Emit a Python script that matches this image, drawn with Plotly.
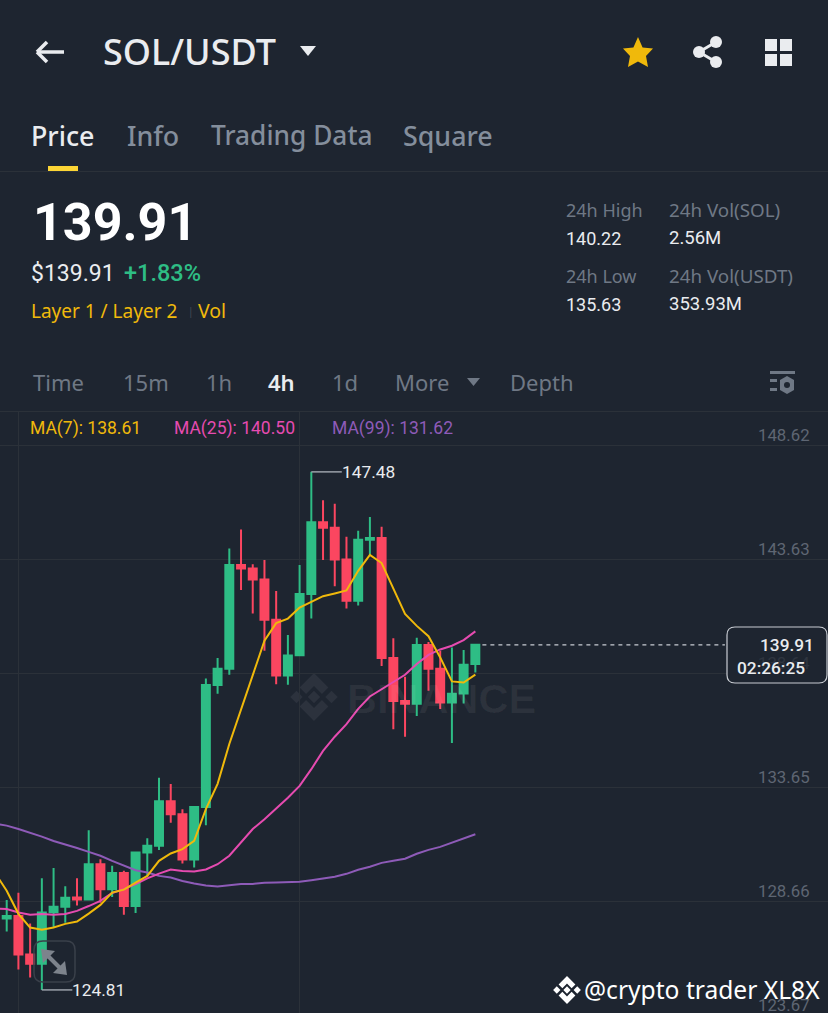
import plotly.graph_objects as go

W, H = 828, 1013

# candles
opens = [127.93, 128.05, 126.36, 125.95, 128.21, 128.45, 128.85, 128.77, 130.31, 129.22, 129.93,
         128.48, 130.82, 131.12, 133.07, 132.50, 130.52, 132.82, 138.15, 138.86, 143.40, 143.25,
         142.77, 141.01, 138.57, 139.46, 142.14, 145.28, 145.03, 143.64, 141.84, 144.51, 144.59,
         139.33, 137.45, 137.33, 139.90, 138.86, 137.39, 137.78, 139.07]
highs = [128.74, 129.06, 127.72, 129.70, 130.14, 129.35, 129.70, 131.80, 130.53, 130.24, 130.02,
         130.82, 131.45, 134.09, 133.82, 132.72, 132.82, 138.44, 139.34, 144.13, 144.96, 143.44,
         143.62, 142.27, 140.34, 143.41, 147.48, 146.24, 146.08, 144.64, 144.90, 145.50, 145.08,
         140.20, 138.51, 140.22, 140.04, 139.65, 139.79, 139.69, 139.91]
lows = [127.37, 125.70, 125.35, 124.81, 127.54, 127.75, 128.50, 128.74, 128.63, 128.88, 128.10,
        128.18, 129.76, 130.93, 132.12, 130.34, 130.17, 132.02, 137.77, 138.60, 142.31, 141.28,
        139.65, 138.19, 138.16, 139.46, 141.06, 143.62, 142.48, 141.50, 141.63, 143.85, 138.99,
        136.22, 135.89, 136.80, 137.90, 137.10, 135.61, 137.34, 138.70]
closes = [128.05, 126.36, 125.95, 128.20, 128.45, 128.84, 128.77, 130.31, 129.22, 129.93, 128.48,
          130.82, 131.12, 133.07, 132.50, 130.52, 132.82, 138.15, 138.86, 143.40, 143.25, 142.77,
          141.01, 138.57, 139.44, 142.14, 145.28, 145.03, 143.64, 141.84, 144.51, 144.59, 139.33,
          137.45, 137.33, 139.90, 138.86, 137.39, 137.77, 139.04, 139.91]
candle_x = list(range(41))

# moving averages, first point sits one candle off the left edge
ma7 = [129.93, 129.15, 128.14, 127.54, 127.44, 127.54, 127.70, 127.80, 128.15, 128.53, 129.07,
       129.20, 129.51, 129.80, 130.46, 130.78, 130.97, 131.33, 132.72, 133.83, 135.57, 137.08,
       138.60, 140.09, 140.86, 141.06, 141.54, 141.79, 142.04, 142.16, 142.29, 143.15, 143.85,
       143.49, 142.35, 141.26, 140.74, 140.29, 139.36, 138.31, 138.26, 138.61]
ma25 = [128.37, 128.35, 128.20, 128.10, 128.13, 128.10, 128.13, 128.27, 128.48, 128.71, 129.05,
        129.22, 129.44, 129.69, 129.90, 130.08, 130.01, 129.99, 130.08, 130.31, 130.68, 131.26,
        131.85, 132.28, 132.74, 133.22, 133.74, 134.47, 135.27, 135.89, 136.44, 137.11, 137.65,
        137.97, 138.26, 138.60, 139.07, 139.47, 139.71, 139.87, 140.12, 140.50]
ma99 = [132.09, 132.00, 131.85, 131.70, 131.52, 131.33, 131.19, 131.02, 130.85, 130.68, 130.46,
        130.24, 130.05, 129.95, 129.80, 129.73, 129.58, 129.47, 129.38, 129.34, 129.40, 129.44,
        129.45, 129.50, 129.51, 129.51, 129.54, 129.61, 129.67, 129.76, 129.89, 130.07, 130.20,
        130.37, 130.46, 130.55, 130.77, 130.94, 131.07, 131.25, 131.42, 131.62]
ma_x = list(range(-1, 41))

y_ticks = [148.62, 143.63, 138.64, 133.65, 128.66, 123.67]
y_tick_labels = ['148.62', '143.63', '138.64', '133.65', '128.66', '123.67']
x_grid = [1, 25]

BG = '#1E2530'
GRID = '#2B3139'
GREEN = '#2EBD85'
RED = '#FB4660'
YELLOW = '#F0B90B'
PINK = '#E64BB0'
PURPLE = '#8E5BB8'
GRAY = '#848E9C'
DIM = '#6F7885'
WHITE = '#EAECEF'
UI = 'Noto Sans'
NUM = 'Roboto'

Y_RANGE = [123.80, 150.10]
Y_TOP = (H - 412) / H


def px(x):
    return x / W


def py(y):
    return 1 - y / H


def poly(points):
    s = 'M %.5f %.5f' % (px(points[0][0]), py(points[0][1]))
    for p in points[1:]:
        s += ' L %.5f %.5f' % (px(p[0]), py(p[1]))
    return s + ' Z'


def roundrect(x0, y0, x1, y1, r):
    return ('M %.5f %.5f L %.5f %.5f Q %.5f %.5f %.5f %.5f L %.5f %.5f Q %.5f %.5f %.5f %.5f '
            'L %.5f %.5f Q %.5f %.5f %.5f %.5f L %.5f %.5f Q %.5f %.5f %.5f %.5f Z' % (
                px(x0 + r), py(y0), px(x1 - r), py(y0), px(x1), py(y0), px(x1), py(y0 + r),
                px(x1), py(y1 - r), px(x1), py(y1), px(x1 - r), py(y1),
                px(x0 + r), py(y1), px(x0), py(y1), px(x0), py(y1 - r),
                px(x0), py(y0 + r), px(x0), py(y0), px(x0 + r), py(y0)))


shapes = []
annotations = []


def fill(d, color, layer='above'):
    shapes.append(dict(type='path', xref='paper', yref='paper', path=d, fillcolor=color,
                       line=dict(width=0), layer=layer))


def stroke(d, color, width, fc='rgba(0,0,0,0)'):
    shapes.append(dict(type='path', xref='paper', yref='paper', path=d, fillcolor=fc,
                       line=dict(color=color, width=width), layer='above'))


def seg(x0, y0, x1, y1, color, width):
    shapes.append(dict(type='line', xref='paper', yref='paper', x0=px(x0), x1=px(x1), y0=py(y0), y1=py(y1),
                       line=dict(color=color, width=width), layer='above'))


def dot(x, y, r, color):
    shapes.append(dict(type='circle', xref='paper', yref='paper', x0=px(x - r), x1=px(x + r),
                       y0=py(y - r), y1=py(y + r), fillcolor=color, line=dict(width=0), layer='above'))


def txt(x, y, s, size, color, family=UI, weight=400, anchor='left'):
    # annotations keep a little padding on the left
    if anchor == 'left':
        x = x - 0.5
    annotations.append(dict(xref='paper', yref='paper', x=px(x), y=py(y), text=s, showarrow=False,
                            xanchor=anchor, yanchor='middle', borderpad=0, borderwidth=0,
                            font=dict(size=size, color=color, family=family, weight=weight)))


def diamond(cx, cy, r):
    return poly([(cx, cy - r), (cx + r, cy), (cx, cy + r), (cx - r, cy)])


def binance_logo(cx, cy, s, color, layer):
    fill(diamond(cx, cy, 0.26 * s), color, layer)
    fill(diamond(cx - 0.73 * s, cy, 0.26 * s), color, layer)
    fill(diamond(cx + 0.73 * s, cy, 0.26 * s), color, layer)
    fill(poly([(cx, cy - s), (cx + 0.6 * s, cy - 0.4 * s), (cx + 0.33 * s, cy - 0.13 * s), (cx, cy - 0.46 * s),
               (cx - 0.33 * s, cy - 0.13 * s), (cx - 0.6 * s, cy - 0.4 * s)]), color, layer)
    fill(poly([(cx, cy + s), (cx + 0.6 * s, cy + 0.4 * s), (cx + 0.33 * s, cy + 0.13 * s), (cx, cy + 0.46 * s),
               (cx - 0.33 * s, cy + 0.13 * s), (cx - 0.6 * s, cy + 0.4 * s)]), color, layer)


# header
seg(37, 52, 64, 52, WHITE, 3.5)
seg(37, 52, 47, 42, WHITE, 3.5)
seg(37, 52, 47, 62, WHITE, 3.5)
txt(103, 52, 'SOL/USDT', 36, WHITE, weight=500)
fill(poly([(300, 46), (316, 46), (308, 56)]), WHITE)
fill(poly([(638, 37), (642.6, 47.5), (653, 48.5), (646, 56), (648, 67), (638, 61.5), (628, 67), (630, 56),
           (623, 48.5), (633.4, 47.5)]), YELLOW)
dot(716, 42, 6, WHITE)
dot(716, 62, 6, WHITE)
dot(699, 52, 6, WHITE)
seg(699, 52, 716, 42, WHITE, 3)
seg(699, 52, 716, 62, WHITE, 3)
for gx in (765, 780):
    for gy in (39, 54):
        fill(poly([(gx, gy), (gx + 12, gy), (gx + 12, gy + 12), (gx, gy + 12)]), WHITE)

# tabs
txt(31, 135, 'Price', 26.8, WHITE, weight=500)
txt(127, 135, 'Info', 26.8, GRAY, weight=500)
txt(211, 135, 'Trading Data', 26.3, GRAY, weight=500)
txt(403, 135, 'Square', 26.8, GRAY, weight=500)
fill(poly([(48, 166), (78, 166), (78, 171), (48, 171)]), '#FCD535')
seg(0, 171.5, 828, 171.5, GRID, 1)

# price block
txt(33, 222, '139.91', 52, '#FFFFFF', family=NUM, weight=700)
txt(31, 273, '$139.91', 23, WHITE, family=NUM)
txt(124, 273, '+1.83%', 23.5, GREEN, family=NUM, weight=500)
txt(31, 311, 'Layer 1 / Layer 2', 19, YELLOW)
txt(188, 311, '|', 10, '#474D57')
txt(198, 311, 'Vol', 19.5, YELLOW)
txt(566, 210, '24h High', 18, DIM)
txt(669, 210, '24h Vol(SOL)', 18.8, DIM)
txt(566, 238, '140.22', 18, WHITE, family=NUM)
txt(669, 238, '2.56M', 18.5, WHITE, family=NUM)
txt(566, 276, '24h Low', 18, DIM)
txt(669, 276, '24h Vol(USDT)', 18.8, DIM)
txt(566, 304, '135.63', 18, WHITE, family=NUM)
txt(669, 304, '353.93M', 18.5, WHITE, family=NUM)

# interval row
for lx, label, col, wt in [(33, 'Time', DIM, 400), (123, '15m', DIM, 400), (206, '1h', DIM, 400),
                           (268, '4h', WHITE, 600), (332, '1d', DIM, 400), (395, 'More', DIM, 400),
                           (510, 'Depth', DIM, 400)]:
    txt(lx, 382, label, 22, col, weight=wt)
fill(poly([(467, 378), (480, 378), (473.5, 386)]), DIM)
fill(poly([(770, 371), (795, 371), (795, 374), (770, 374)]), DIM)
fill(poly([(770, 379), (777, 379), (777, 382), (770, 382)]), DIM)
fill(poly([(770, 388), (777, 388), (777, 391), (770, 391)]), DIM)
fill(poly([(787, 376), (794, 380), (794, 390), (787, 394), (780, 390), (780, 380)]), DIM)
dot(787, 385, 3, BG)
seg(0, 411.5, 828, 411.5, GRID, 1)

# MA legend
txt(30, 428, 'MA(7): 138.61', 17.5, YELLOW, family=NUM)
txt(174, 428, 'MA(25): 140.50', 17.5, PINK, family=NUM)
txt(332, 428, 'MA(99): 131.62', 17.5, PURPLE, family=NUM)

# watermark, under the candles
binance_logo(314, 697, 24, '#2C323D', 'below')
txt(347, 698, 'BINANCE', 41.5, 'rgba(255,255,255,0.06)', family='Liberation Sans', weight=700)

# axis labels sit just over their grid lines, paper refs so the lowest one survives the axis range
for tick, label in zip(y_ticks, y_tick_labels):
    frac = (tick - Y_RANGE[0]) / (Y_RANGE[1] - Y_RANGE[0]) * Y_TOP
    color = '#2F3540' if label == '138.64' else '#5E6673'
    annotations.append(dict(xref='paper', yref='paper', x=px(812), y=frac, text=label, showarrow=False,
                            xanchor='right', yanchor='bottom', yshift=-1,
                            font=dict(size=16.8, color=color, family=NUM)))

# high and low callouts
for ix, val, label in [(26, highs[26], '147.48'), (3, lows[3], '124.81')]:
    shapes.append(dict(type='line', xref='x', yref='y', x0=ix, x1=ix + 2.6, y0=val, y1=val,
                       line=dict(color='#9AA0A8', width=1.5), layer='above'))
    annotations.append(dict(xref='x', yref='y', x=ix + 2.6, y=val, text=label, showarrow=False, xanchor='left',
                            yanchor='middle', xshift=-2, font=dict(size=17.3, color=WHITE, family=NUM)))

# last price line and box
shapes.append(dict(type='line', xref='x', yref='y', x0=40.6, x1=61.3, y0=closes[-1], y1=closes[-1],
                   line=dict(color='#C8CCD2', width=1.2, dash='4px,4px'), layer='above'))
stroke(roundrect(727, 627, 827, 683, 8), '#C8CCD2', 1.2, fc=BG)
txt(814, 645, '139.91', 17.3, WHITE, family=NUM, weight=500, anchor='right')
txt(805, 668, '02:26:25', 17.3, WHITE, family=NUM, weight=500, anchor='right')

# expand button
stroke(roundrect(34, 941, 75, 982, 9), '#3A404A', 1.5)
seg(45, 953, 63, 971, '#7D838C', 4)
fill(poly([(41, 949), (55, 951), (43, 963)]), '#7D838C')
fill(poly([(67, 975), (53, 973), (65, 961)]), '#7D838C')

# corner credit
binance_logo(567, 990, 14, '#FFFFFF', 'above')
txt(584.5, 989, '@crypto trader XL8X', 24.6, '#FFFFFF')

fig = go.Figure()
fig.add_trace(go.Candlestick(x=candle_x, open=opens, high=highs, low=lows, close=closes,
                             whiskerwidth=0, hoverinfo='skip',
                             increasing=dict(line=dict(color=GREEN, width=2), fillcolor=GREEN),
                             decreasing=dict(line=dict(color=RED, width=2), fillcolor=RED)))
fig.add_trace(go.Scatter(x=ma_x, y=ma99, mode='lines', line=dict(color=PURPLE, width=2), hoverinfo='skip'))
fig.add_trace(go.Scatter(x=ma_x, y=ma25, mode='lines', line=dict(color=PINK, width=2), hoverinfo='skip'))
fig.add_trace(go.Scatter(x=ma_x, y=ma7, mode='lines', line=dict(color=YELLOW, width=2), hoverinfo='skip'))

fig.update_layout(
    width=W, height=H, margin=dict(l=0, r=0, t=0, b=0), showlegend=False,
    boxgap=0.3, boxgroupgap=0.03,
    paper_bgcolor=BG, plot_bgcolor='rgba(0,0,0,0)', shapes=shapes, annotations=annotations,
    xaxis=dict(range=[-0.572, 70.1], rangeslider=dict(visible=False), tickvals=x_grid, showticklabels=False,
               showgrid=True, gridcolor=GRID, gridwidth=1, zeroline=False, showline=False, ticks=''),
    yaxis=dict(domain=[0, Y_TOP], range=Y_RANGE, tickvals=y_ticks, showticklabels=False,
               showgrid=True, gridcolor=GRID, gridwidth=1, zeroline=False, showline=False, ticks=''),
)

fig.write_html('out.html', config=dict(displayModeBar=False),
               post_script="document.body.style.margin='0';document.body.style.overflow='hidden';")
